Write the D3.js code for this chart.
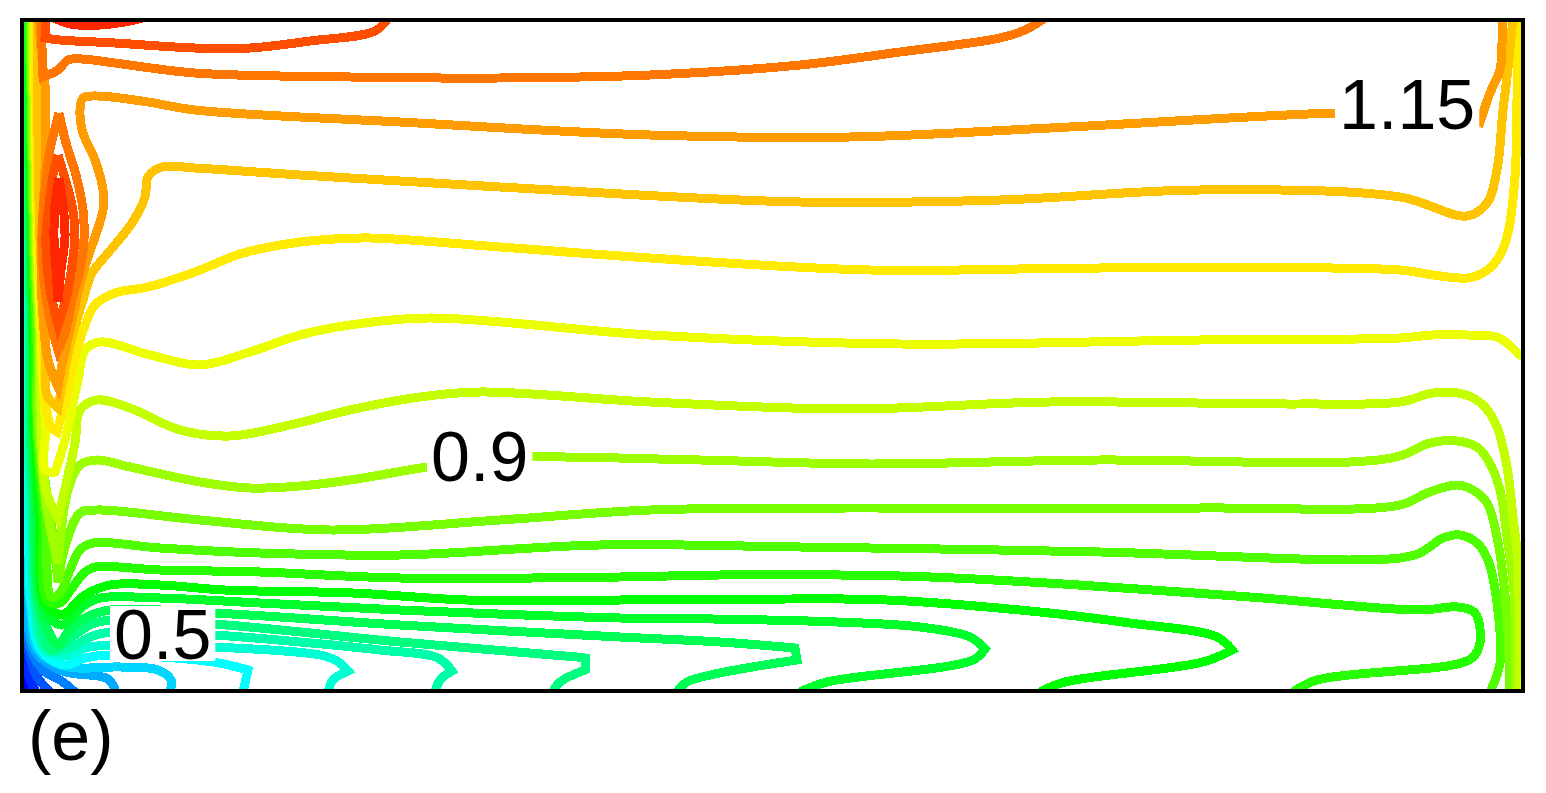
<!DOCTYPE html>
<meta charset="utf-8">
<style>
  html, body { margin: 0; background: #fff; }
  svg { display: block; }
  .contour { fill: none; stroke-width: 9px; stroke-linejoin: miter; shape-rendering: crispEdges; }
  text { font-family: "Liberation Sans", Arial, sans-serif; font-size: 70px; fill: #000; }
</style>
<body>
<svg width="1546" height="793"></svg>
<script src="https://d3js.org/d3.v7.min.js"></script>
<script>
// contour lines, [x, depth] with depth counted from the top wall
const c010 = [[1,650],[6,672]];
const c015 = [[1,625],[4,648],[14,672]];
const c020 = [[1,600],[6.5,630],[14,655],[28,672]];
const c025 = [[1,570],[9,630],[23,652],[38,660],[53,672]];
const c030 = [[1,500],[4,580],[12.5,630],[33,648],[48,653],[86,659],[94,672]];
const c035 = [[1,380],[3,497],[7.5,580],[16,630],[38,645],[56,648],[98,647],[136,650],[149,660],[148,672]];
const c040 = [[2,230],[4,410],[6.5,497],[9,580],[19,630],[43,645],[63,638],[88,635],[191,642],[226,650],[226,650],[221,672]];
const c045 = [[3,180],[6.5,323],[6.5,410],[8,497],[11,580],[22,630],[48,635],[63,628],[88,625],[191,627],[298,635],[315,641],[326,651],[326,651],[311,660],[306,672]];
const c050 = [[3,80],[7,220],[7.5,323],[7.5,410],[9.5,497],[13,580],[25.5,630],[48,628],[68,617],[88,612],[191,615],[278,622],[358,630],[416,638],[430,651],[430,651],[418,660],[413,672]];
const c055 = [[4,20],[7.3,220],[8.5,323],[8.5,410],[11.5,497],[15,580],[29,630],[46,620],[68,605],[88,600],[191,604],[378,622],[555,637],[563,638],[563,638],[563,650],[563,650],[538,662],[531,672]];
const c060 = [[5,-2],[8,220],[9.5,323],[9.5,410],[13.5,497],[16.5,580],[26,610],[36,625],[46,612],[63,598],[88,590],[191,593],[378,605],[598,617],[698,622],[773,628],[773,628],[775,640],[775,640],[665,662],[655,672]];
const c065 = [[6,-2],[9,220],[11,323],[11.5,410],[16,497],[19.5,580],[28,598],[40,605],[63,585],[78,578],[138,578],[238,583],[378,590],[598,598],[691,599],[815,602],[898,607],[948,617],[963,629],[963,629],[951,640],[805,662],[778,672]];
const c070 = [[7,-2],[9.5,220],[12,323],[13,410],[18.5,497],[22,580],[30,590],[40,595],[63,575],[88,565],[138,565],[203,570],[331,573],[445,580],[598,580],[765,579],[865,580],[1018,592],[1108,603],[1195,617],[1210,630],[1210,630],[1181,642],[1043,662],[1018,672]];
const c075 = [[7.5,-2],[10.5,220],[13.5,323],[14.5,410],[21,497],[25,580],[38,583],[50,568],[63,552],[73,547],[138,550],[238,552],[378,558],[598,557],[698,555],[878,556],[1008,562],[1228,577],[1398,590],[1436,587],[1453,593],[1458,623],[1450,638],[1431,645],[1295,660],[1271,672]];
const c080 = [[8,-2],[11.5,220],[15,323],[15.5,410],[23.5,497],[29.5,577],[38,573],[48,550],[58,530],[71,523],[138,528],[238,533],[378,535],[578,525],[778,527],[1078,532],[1328,540],[1378,538],[1398,533],[1421,518],[1438,515],[1455,523],[1466,540],[1475,583],[1478,643],[1468,672]];
const c085 = [[9,-2],[12.5,220],[16.5,323],[16.5,410],[28.5,497],[36,562],[36,562],[43,527],[58,493],[75,490],[178,500],[308,510],[478,500],[628,490],[828,488],[1178,488],[1378,485],[1405,473],[1435,465],[1451,470],[1465,483],[1475,517],[1485,597],[1488,672]];
const c090 = [[10,-2],[13.5,220],[17.5,323],[18,410],[25,490],[36,543],[36,543],[46,470],[58,445],[75,440],[108,447],[178,462],[228,468],[278,466],[328,460],[405,447],[458,440],[510,437],[678,440],[848,444],[1078,440],[1328,442],[1378,436],[1408,423],[1435,421],[1455,427],[1466,440],[1478,470],[1485,517],[1492,572],[1494,672]];
const c095 = [[11,-2],[14.5,220],[18.5,323],[19.5,410],[24,470],[36,498],[36,498],[53,423],[58,390],[75,380],[108,388],[158,410],[208,416],[268,405],[328,390],[398,377],[458,372],[628,382],[828,389],[1028,382],[1278,384],[1378,382],[1411,373],[1441,374],[1461,385],[1475,407],[1485,447],[1491,497],[1496,543],[1497,672]];
const c100 = [[12,-2],[15.5,220],[19.5,323],[23.5,410],[23,450],[33,452],[33,452],[43,420],[56,360],[63,330],[78,322],[128,335],[178,345],[228,332],[278,315],[328,305],[408,298],[628,315],[878,324],[1178,320],[1378,318],[1411,315],[1445,315],[1475,317],[1485,323],[1498,335],[1502.5,337],[1502.5,672]];
const c105 = [[13,-2],[16.5,220],[21,323],[28,405],[35,412],[35,412],[46,370],[56,327],[65,300],[73,285],[93,273],[126,267],[173,252],[218,234],[258,225],[298,220],[348,218],[478,227],[628,238],[848,250],[1078,248],[1378,250],[1411,255],[1445,258],[1461,253],[1475,240],[1485,217],[1493,157],[1495,80],[1496,-2]];
const c110 = [[15,-2],[18,220],[23.5,323],[25,375],[36,388],[36,388],[40,365],[48,325],[61,280],[70,253],[86,233],[110,203],[123,177],[126,157],[140,147],[173,148],[278,155],[478,167],[778,182],[978,180],[1178,170],[1378,177],[1445,196],[1465,183],[1475,150],[1481,90],[1485,57],[1491,-2]];
const c115 = [[16.5,-2],[20,40],[23,65],[23,150],[19.5,220],[20,280],[26,340],[36,367],[36,367],[40,345],[48,310],[56,273],[65,240],[73,217],[81,190],[81,170],[73,140],[61,113],[58,90],[61,78],[75,76],[126,82],[173,90],[378,102],[628,115],[828,117],[1028,108],[1314,93],[1398,93],[1440,96],[1458,102],[1458,102],[1468,73],[1478,50],[1480,23],[1481,-2]];
const c120 = [[19,-2],[21,57],[21,57],[36,50],[46,40],[60,39],[93,43],[173,53],[328,57],[478,58],[628,55],[778,45],[878,32],[978,18],[1003,10],[1023,-2]];
const c125 = [[24,-2],[23,18],[23,18],[38,20],[93,23],[173,28],[228,28],[288,21],[353,11],[366,-2]];
const c130 = [[28,-4],[48,4],[78,5],[108,1],[128,-4]];

// closed loops around the hot spot on the left wall
const loop120 = [[37,93],[37,93],[44,123],[54,155],[61,190],[62,220],[58,250],[50,280],[44,310],[36,330],[36,330],[28,300],[22,260],[20,217],[23,170],[28,130]];
const loop125 = [[36,135],[36,135],[42,155],[50,185],[53,215],[50,245],[45,275],[36,305],[36,305],[29,275],[25,245],[24,215],[27,185],[31,155]];
const loop130 = [[37,158],[37,158],[33,185],[32,217],[34,250],[36,282],[36,282],[39,250],[43,217],[41,185]];

const levels = [0.1,0.15,0.2,0.25,0.3,0.35,0.4,0.45,0.5,0.55,0.6,0.65,0.7,0.75,0.8,0.85,0.9,0.95,1,1.05,1.1,1.15,1.2,1.25,1.3];
const lines = [c010,c015,c020,c025,c030,c035,c040,c045,c050,c055,c060,c065,c070,c075,c080,c085,c090,c095,c100,c105,c110,c115,c120,c125,c130];
const loopLevels = [1.2,1.25,1.3];
const loops = [loop120,loop125,loop130];

const labelText = ["0.5","0.9","1.15"];
const labelX = [92,409,1317];
const labelY = [639,461,109];
const panelName = "(e)";

const x = d3.scaleLinear().domain([0,1501]).range([22,1523]);
const y = d3.scaleLinear().domain([0,671]).range([20,691]);

const color = d3.scaleLinear()
  .domain([0.1,0.4,0.7,1.025,1.35])
  .range(["#0000ff","#00ffff","#00ff00","#ffff00","#ff0000"]);

const svg = d3.select("svg");

svg.append("clipPath").attr("id","plot")
  .append("rect")
  .attr("x",x(0)).attr("y",y(0))
  .attr("width",x(1501)-x(0)).attr("height",y(671)-y(0));

const g = svg.append("g").attr("clip-path","url(#plot)");

// repeated points in the lists above keep a corner sharp under the smoothing
const path = d3.line().x(d => x(d[0])).y(d => y(d[1])).curve(d3.curveCatmullRom.alpha(0.5));
const closed = d3.line().x(d => x(d[0])).y(d => y(d[1])).curve(d3.curveCatmullRomClosed.alpha(0.5));

// low levels first, the higher ones lie on top in the wall band
const marks = [];
levels.forEach((l,i) => marks.push({level:l, d:path(lines[i])}));
loopLevels.forEach((l,i) => marks.push({level:l, d:closed(loops[i])}));
marks.sort((a,b) => a.level - b.level);

g.selectAll("path")
  .data(marks)
  .join("path")
  .attr("class","contour")
  .attr("stroke",d => color(d.level))
  .attr("d",d => d.d);

// labels sit on white boxes that cut the lines
labelText.forEach((t,i) => {
  const lab = svg.append("g");
  const box = lab.append("rect").attr("fill","#fff");
  const txt = lab.append("text").attr("x",x(labelX[i])).attr("y",y(labelY[i])).text(t);
  const b = txt.node().getBBox();
  box.attr("x",b.x-4).attr("width",b.width+8)
    .attr("y",y(labelY[i])-53).attr("height",55);
});

svg.append("rect")
  .attr("x",x(0)).attr("y",y(0))
  .attr("width",x(1501)-x(0)).attr("height",y(671)-y(0))
  .attr("fill","none").attr("stroke","#000").attr("stroke-width",4);

svg.append("text").attr("x",x(6)).attr("y",y(740)).text(panelName);
</script>
</body>
